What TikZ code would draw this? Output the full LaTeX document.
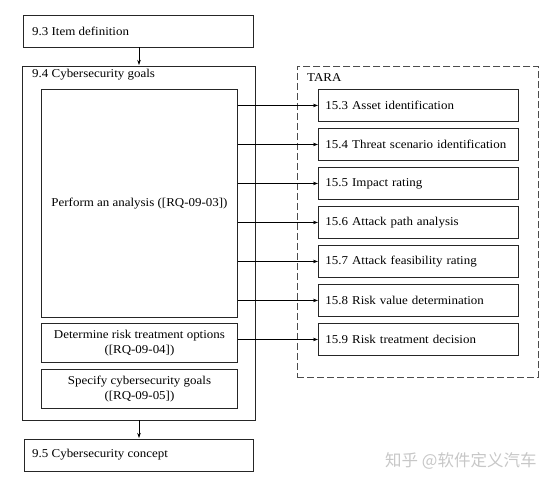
\documentclass[tikz,border=0pt]{standalone}
\usepackage{fontspec}
\setmainfont{Liberation Serif}[FakeStretch=1.08]
\newfontfamily\cjk{Noto Sans CJK SC}
\usetikzlibrary{arrows.meta}
\tikzset{
  box/.style={draw=black!85, line width=0.9pt, rectangle, inner sep=0pt},
  taskbox/.style={box, minimum width=200pt, minimum height=32pt, text width=186pt, align=left, font=\fontsize{12}{14}\selectfont},
  link/.style={draw=black, line width=0.7pt, -{Stealth[length=5pt,width=3.5pt]}},
  lbl/.style={font=\fontsize{12}{14}\selectfont, inner sep=0pt, anchor=west},
}
\begin{document}
\begin{tikzpicture}[x=1pt,y=-1pt]
\useasboundingbox (0,0) rectangle (553,483);
% left column
\node[box, minimum width=230pt, minimum height=32pt, anchor=north west] (item) at (23,15) {};
\node[lbl] (itemt) at (32,31) {9.3 Item definition};
\node[box, minimum width=233pt, minimum height=354pt, anchor=north west] (goals) at (22,66) {};
\node[lbl] (goalst) at (32,75) {9.4 Cybersecurity goals};
\node[box, minimum width=196pt, minimum height=228pt, anchor=north west, font=\fontsize{12}{14}\selectfont] (perf) at (41,89) {Perform an analysis ([RQ-09-03])};
\node[box, minimum width=196pt, minimum height=39pt, anchor=north west, align=center, font=\fontsize{12}{14.5}\selectfont] (det) at (41,323) {Determine risk treatment options\\([RQ-09-04])};
\node[box, minimum width=196pt, minimum height=39pt, anchor=north west, align=center, font=\fontsize{12}{14.5}\selectfont] (spec) at (41,369) {Specify cybersecurity goals\\([RQ-09-05])};
\node[box, minimum width=229pt, minimum height=32pt, anchor=north west] (conc) at (24,439) {};
\node[lbl] (conct) at (32,455) {9.5 Cybersecurity concept};
\draw[link] (139,47) coordinate (a1) -- (139,65) coordinate (a2);
\draw[link] (139,420) coordinate (b1) -- (139,438) coordinate (b2);
% TARA
\node[draw=black!70, dash pattern=on 7pt off 3pt, line width=0.9pt, minimum width=241pt, minimum height=311pt, anchor=north west, inner sep=0pt] (tara) at (297,66) {};
\node[lbl] (tarat) at (307,78) {TARA};
\foreach \i/\t [count=\k from 0] in {a/15.3 Asset identification, b/15.4 Threat scenario identification, c/15.5 Impact rating, d/15.6 Attack path analysis, e/15.7 Attack feasibility rating, f/15.8 Risk value determination, g/15.9 Risk treatment decision}{
  \node[taskbox, anchor=north west] (t\i) at (318,89+39*\k) {\t};
}
\foreach \i [count=\k from 0] in {a,b,c,d,e,f}{
  \draw[link] (perf.east |- t\i.west) -- (t\i.west);
}
\draw[link] (det.east |- tg.west) -- (tg.west);
\node[font=\cjk\fontsize{16.5}{18}\selectfont, text=black!22, anchor=west, inner sep=0pt] (wm) at (385,461) {知乎 @软件定义汽车};
\end{tikzpicture}
\end{document}
